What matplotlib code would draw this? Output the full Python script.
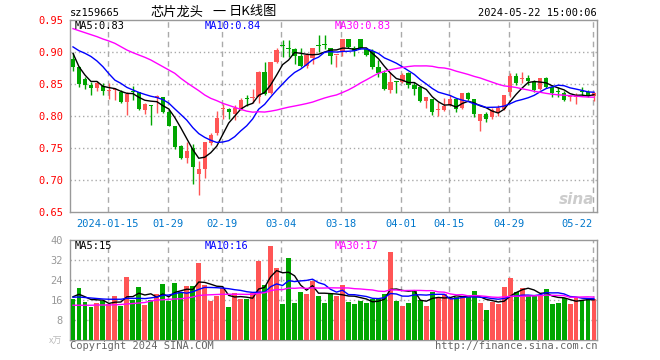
import numpy as np
import pandas as pd
import matplotlib
matplotlib.use('Agg')
import matplotlib.pyplot as plt

# daily OHLC, 2024-01-05 .. 2024-05-22 (88 sessions)
opens = [0.889, 0.877, 0.858, 0.848, 0.843, 0.847, 0.839, 0.840, 0.8375, 0.822,
         0.838, 0.837, 0.809, 0.816, 0.828, 0.829, 0.806, 0.784, 0.753, 0.734,
         0.750, 0.709, 0.717, 0.758, 0.773, 0.811, 0.811, 0.803, 0.810, 0.8265,
         0.8275, 0.829, 0.869, 0.8365, 0.884, 0.911, 0.9057, 0.904, 0.894, 0.878,
         0.890, 0.910, 0.912, 0.906, 0.895, 0.900, 0.920, 0.907, 0.920, 0.904,
         0.902, 0.877, 0.867, 0.8406, 0.8536, 0.8536, 0.8667, 0.8484, 0.8453, 0.8234,
         0.8266, 0.8094, 0.8094, 0.8172, 0.8266, 0.812, 0.8365, 0.8266, 0.7922, 0.8026,
         0.7979, 0.8068, 0.8104, 0.838, 0.8625, 0.8583, 0.8589, 0.8536, 0.8422, 0.8599,
         0.8458, 0.8385, 0.8354, 0.829, 0.8292, 0.8385, 0.838, 0.8313]
highs = [0.898, 0.878, 0.861, 0.853, 0.854, 0.852, 0.851, 0.843, 0.840, 0.838,
         0.847, 0.838, 0.820, 0.817, 0.833, 0.830, 0.810, 0.785, 0.755, 0.760,
         0.757, 0.729, 0.760, 0.773, 0.808, 0.818, 0.813, 0.817, 0.828, 0.833,
         0.842, 0.870, 0.884, 0.885, 0.906, 0.918, 0.918, 0.906, 0.906, 0.898,
         0.906, 0.927, 0.927, 0.906, 0.896, 0.920, 0.921, 0.909, 0.920, 0.906,
         0.904, 0.888, 0.872, 0.869, 0.854, 0.8667, 0.8693, 0.8536, 0.8458, 0.8292,
         0.8266, 0.8224, 0.8286, 0.8328, 0.8266, 0.8354, 0.838, 0.8266, 0.8031, 0.8063,
         0.812, 0.8172, 0.8328, 0.8667, 0.8667, 0.8693, 0.8641, 0.8563, 0.8589, 0.8615,
         0.8484, 0.8458, 0.8396, 0.8328, 0.8354, 0.8448, 0.8406, 0.838]
lows = [0.871, 0.846, 0.842, 0.833, 0.839, 0.833, 0.826, 0.825, 0.821, 0.802,
        0.825, 0.809, 0.803, 0.786, 0.805, 0.805, 0.784, 0.749, 0.733, 0.726,
        0.694, 0.676, 0.703, 0.755, 0.771, 0.795, 0.796, 0.794, 0.809, 0.816,
        0.820, 0.820, 0.833, 0.834, 0.883, 0.892, 0.892, 0.882, 0.876, 0.8755,
        0.882, 0.9005, 0.904, 0.882, 0.877, 0.894, 0.906, 0.894, 0.904, 0.894,
        0.873, 0.8615, 0.8406, 0.8365, 0.8365, 0.851, 0.8432, 0.8328, 0.8219, 0.812,
        0.8016, 0.800, 0.8078, 0.8156, 0.8068, 0.8104, 0.825, 0.799, 0.7771, 0.7911,
        0.7958, 0.800, 0.8094, 0.8292, 0.8484, 0.851, 0.8484, 0.838, 0.8406, 0.8432,
        0.8292, 0.8302, 0.8234, 0.824, 0.8188, 0.8328, 0.8292, 0.824]
closes = [0.877, 0.850, 0.849, 0.843, 0.851, 0.839, 0.840, 0.841, 0.822, 0.835,
          0.837, 0.811, 0.818, 0.815, 0.831, 0.806, 0.785, 0.751, 0.735, 0.746,
          0.721, 0.717, 0.759, 0.770, 0.797, 0.812, 0.807, 0.8125, 0.825, 0.826,
          0.8285, 0.869, 0.835, 0.884, 0.903, 0.910, 0.9052, 0.894, 0.878, 0.895,
          0.906, 0.9093, 0.911, 0.894, 0.896, 0.920, 0.908, 0.902, 0.906, 0.896,
          0.877, 0.867, 0.842, 0.8536, 0.8531, 0.8641, 0.8484, 0.8422, 0.8234, 0.8292,
          0.8068, 0.810, 0.8156, 0.8266, 0.8104, 0.8354, 0.8271, 0.8031, 0.8031, 0.7958,
          0.8094, 0.812, 0.8328, 0.863, 0.8521, 0.8589, 0.8547, 0.8406, 0.8589, 0.8458,
          0.8365, 0.838, 0.825, 0.8295, 0.8328, 0.838, 0.8313, 0.8354]
# volume in 万手
volumes = [16.4, 20.8, 15.2, 13.2, 14.8, 15.6, 14.4, 17.6, 13.6, 25.2,
           16.0, 21.2, 14.0, 16.0, 18.4, 22.4, 15.6, 22.8, 19.2, 21.6,
           21.6, 30.8, 22.0, 15.6, 17.6, 20.8, 13.2, 18.8, 16.4, 16.4,
           18.8, 31.6, 22.0, 37.6, 28.8, 14.4, 32.8, 14.8, 19.2, 18.4,
           23.6, 17.6, 14.8, 18.4, 17.6, 22.0, 15.2, 14.4, 15.6, 14.8,
           16.4, 16.4, 18.4, 35.2, 15.6, 13.6, 14.8, 19.6, 16.0, 13.6,
           19.2, 16.8, 18.4, 16.8, 17.2, 17.6, 17.2, 19.6, 14.8, 12.0,
           15.2, 14.4, 21.2, 24.8, 19.2, 20.8, 17.6, 17.6, 18.0, 20.4,
           14.4, 14.8, 16.8, 14.4, 17.2, 16.0, 16.4, 16.4]

# moving-average values at the start of the window (they depend on earlier sessions)
ma5_head = [0.898, 0.877, 0.864, 0.854]
ma10_head = [0.908, 0.902, 0.898, 0.893, 0.886, 0.877, 0.866, 0.856, 0.851]
ma30_head = [0.9365, 0.9333, 0.9302, 0.9271, 0.924, 0.9203, 0.9172, 0.9135, 0.9083, 0.9031,
             0.899, 0.8953, 0.8917, 0.8875, 0.8823, 0.8771, 0.8719, 0.8667, 0.8589, 0.8521,
             0.8458, 0.8396, 0.8328, 0.8276, 0.824, 0.8198, 0.8167, 0.8135, 0.8104]
vma5_head = [17.3, 18.3, 17.3, 16.2]
vma10_head = [17.1, 17.2, 17.0, 16.8, 16.6, 16.4, 16.3, 16.3, 16.3]
vma30_head = [13.9, 13.9, 13.9, 13.9, 14.0, 14.0, 14.0, 14.1, 14.2, 14.4,
              14.6, 14.8, 15.0, 15.6, 16.0, 16.1, 16.3, 16.4, 16.5, 16.8,
              17.2, 17.8, 18.0, 18.1, 18.2, 18.3, 18.3, 18.3, 18.3]

date_idx = [6, 16, 25, 35, 45, 55, 63, 73, 87]
date_labels = ['2024-01-15', '01-29', '02-19', '03-04', '03-18', '04-01', '04-15', '04-29', '05-22']
price_ticks = [0.65, 0.70, 0.75, 0.80, 0.85, 0.90, 0.95]
vol_ticks = [8, 16, 24, 32, 40]
price_legend = ['MA5:0.83', 'MA10:0.84', 'MA30:0.83']
vol_legend = ['MA5:15', 'MA10:16', 'MA30:17']

plt.rcParams['font.family'] = ['DejaVu Sans Mono', 'Noto Sans CJK SC']

RED = '#ff5555'
GREEN = '#00a600'
GRID = '#aaaaaa'
FRAME = '#999999'
MA_COLORS = ['black', '#0000ff', '#ff00ff']


def moving(vals, n, head):
    m = pd.Series(vals).rolling(n).mean().to_numpy()
    m[:len(head)] = head
    return m


o = np.array(opens); h = np.array(highs); l = np.array(lows); c = np.array(closes)
v = np.array(volumes)
x = np.arange(len(c))
cols = [RED if cc >= oo else GREEN for oo, cc in zip(o, c)]

W, H = 660, 360
fig = plt.figure(figsize=(6.6, 3.6), dpi=100)
ax1 = fig.add_axes([70 / W, 1 - 212 / H, 527 / W, 192 / H])
ax2 = fig.add_axes([70 / W, 1 - 340 / H, 527 / W, 100 / H])

# candles
ax1.vlines(x, l, h, colors=cols, lw=1, zorder=3)
body = np.maximum(np.abs(c - o), 0.0016)
ax1.bar(x, body, bottom=np.minimum(o, c), width=0.72, color=cols, lw=0, zorder=4)
for n, head, col in zip([5, 10, 30], [ma5_head, ma10_head, ma30_head], MA_COLORS):
    ax1.plot(x, moving(c, n, head), color=col, lw=1, zorder=5)

# volume
ax2.bar(x, v, width=0.82, color=cols, lw=0, zorder=3)
for n, head, col in zip([5, 10, 30], [vma5_head, vma10_head, vma30_head], MA_COLORS):
    ax2.plot(x, moving(v, n, head), color=col, lw=1, zorder=5)

for ax in (ax1, ax2):
    ax.set_xlim(-0.5, len(c) - 0.5)
    for s in ax.spines.values():
        s.set_color(FRAME)
        s.set_linewidth(1)
    for i in date_idx:
        ax.axvline(i - 0.2, color=GRID, lw=1, ls=(0, (4, 3)), zorder=1)
    ax.tick_params(length=0)

ax1.set_ylim(0.65, 0.95)
for p in price_ticks[1:-1]:
    ax1.axhline(p, color=GRID, lw=1, ls=(0, (1, 2)), zorder=1)
ax1.set_yticks(price_ticks)
ax1.set_yticklabels(['%.2f' % p for p in price_ticks], color='red', fontsize=7.5)
ax1.tick_params(axis='y', pad=5)
ax1.set_xticks([i - 0.2 for i in date_idx])
ax1.set_xticklabels(date_labels, color='#0077cc', fontsize=7.5)
ax1.get_xticklabels()[-1].set_ha('right')
ax1.tick_params(axis='x', pad=5)

ax2.set_ylim(0, 40)
for t in vol_ticks[:-1]:
    ax2.axhline(t, color=GRID, lw=1, ls=(0, (1, 2)), zorder=1)
ax2.set_yticks(vol_ticks)
ax2.set_yticklabels([str(t) for t in vol_ticks], color='#999999', fontsize=7.5)
ax2.tick_params(axis='y', pad=5)
ax2.set_xticks([])


def ftext(px, py, s, **kw):
    fig.text(px / W, 1 - py / H, s, va='center', **kw)


cjk = ['Noto Sans CJK SC']
ftext(70, 13, 'sz159665', fontsize=7.5, color='black')
ftext(150, 12, '芯片龙头', fontsize=9.5, family=cjk, color='black')
ftext(212, 12, '一', fontsize=9.5, family=cjk, color='black')
ftext(229, 12, '日K线图', fontsize=9.5, family=cjk, color='black')
ftext(597, 13, '2024-05-22 15:00:06', fontsize=7.5, ha='right', color='black')

for px, s, col in zip([75, 205, 335], price_legend, MA_COLORS):
    ftext(px, 26, s, fontsize=7.5, color=col)
for px, s, col in zip([75, 205, 335], vol_legend, MA_COLORS):
    ftext(px, 246, s, fontsize=7.5, color=col)

ftext(49, 341, 'x万', fontsize=6.5, color='#bbbbbb', family=cjk)
ftext(70, 346, 'Copyright 2024 SINA.COM', fontsize=7.5, color='#666666')
ftext(597, 346, 'http://finance.sina.com.cn', fontsize=7.5, ha='right', color='#666666')
ftext(594, 200, 'sina', fontsize=11, ha='right', color='#cccccc', style='italic',
      weight='bold', family=['DejaVu Sans'])

fig.savefig('out.png', dpi=100)
